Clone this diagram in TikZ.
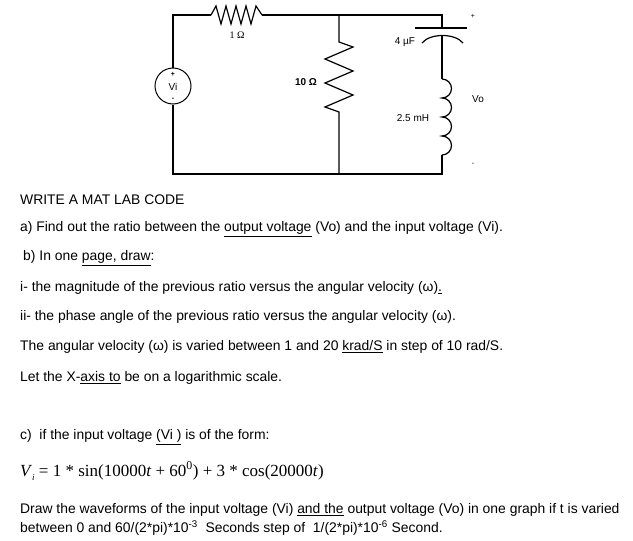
\documentclass[tikz,border=0pt]{standalone}
\usepackage{fontspec}
\setmainfont{Liberation Sans}
\newfontfamily\formfont{Liberation Serif}
\usetikzlibrary{positioning}

\begin{document}
\begin{tikzpicture}[x=1pt,y=-1pt,
        wire/.style = {line width=1.2pt},
        txt/.style = {anchor=west, inner sep=0pt, font=\fontsize{13.9}{16}\selectfont},
        lbl/.style = {inner sep=0pt, font=\fontsize{10}{12}\selectfont},]
        \useasboundingbox (0,0) rectangle (633,541);

        % circuit corners
        \coordinate (tl) at (173,15);
        \coordinate (tm) at (339,15);
        \coordinate (tr) at (442,15);
        \coordinate (bl) at (173,174);
        \coordinate (bm) at (339,174);
        \coordinate (br) at (442,174);
        \node[draw, circle, line width=1pt, minimum size=36pt, inner sep=0pt] (src) at (173,86) {};
        \node[lbl] (vi) at (173,87) {Vi};
        \node[lbl, font=\fontsize{7}{8}\selectfont\bfseries] (vip) at (173,74) {+};
        \node[lbl, font=\fontsize{7}{8}\selectfont\bfseries] (vim) at (173,99) {-};

        \coordinate (r1a) at (211,15);
        \coordinate (r1b) at (262,15);
        \coordinate (r2a) at (339,42);
        \coordinate (r2b) at (339,117);
        \coordinate (cp) at (442,28);
        \coordinate (la) at (442,79);
        \coordinate (lb) at (442,155);

        \draw[wire] (src.north) -- (tl) -- (r1a);
        \draw[wire] (r1a) -- ++(5,-9) -- ++(5,18) -- ++(5,-18) -- ++(5,18) -- ++(5,-18) -- ++(5,18)
                    -- ++(5,-18) -- ++(5,18) -- ++(5,-18) -- (r1b);
        \draw[wire] (r1b) -- (tr) -- (cp);
        \draw[wire] (src.south) -- (bl) -- (br) -- (lb);
        \draw[wire] (tm) -- (r2a) -- ++(14,5) -- ++(-28,12) -- ++(28,12) -- ++(-28,12) -- ++(28,12)
                    -- ++(-28,12) -- ++(14,5) -- (bm);
        % capacitor
        \draw[wire] (415,28) -- (467,28);
        \draw[wire] (422,43) .. controls (430,33) and (455,33) .. (463,43);
        \draw[wire] (442,35) -- (la);
        % inductor
        \draw[wire] (la) arc[start angle=-90, end angle=90, radius=9.5]
                         arc[start angle=-90, end angle=90, radius=9.5]
                         arc[start angle=-90, end angle=90, radius=9.5]
                         arc[start angle=-90, end angle=90, radius=9.5];

        \node[lbl, font=\formfont\fontsize{10}{12}\selectfont] (l1) at (237,35) {1 Ω};
        \node[lbl, font=\fontsize{10}{12}\selectfont\bfseries] (l10) at (306,82) {10 Ω};
        \node[lbl] (lc) at (405,42) {4 µF};
        \node[lbl] (ll) at (413,118) {2.5 mH};
        \node[lbl] (vo) at (478,99) {Vo};
        \node[lbl, font=\fontsize{7}{8}\selectfont] (vop) at (473,16) {+};
        \node[lbl, font=\fontsize{7}{8}\selectfont] (vom) at (473,164) {-};

        % question text
        \node[txt] (t1) at (20,200) {WRITE A MAT LAB CODE};
        \node[txt] (t2) at (20,229) {a) Find out the ratio between the \underline{output voltage} (Vo) and the input voltage (Vi).};
        \node[txt] (t3) at (23,258) {b) In one \underline{page, draw}:};
        \node[txt] (t4) at (20,288) {i- the magnitude of the previous ratio versus the angular velocity (ω)\underline{.}};
        \node[txt] (t5) at (20,317) {ii- the phase angle of the previous ratio versus the angular velocity (ω).};
        \node[txt] (t6) at (20,347) {The angular velocity (ω) is varied between 1 and 20 \underline{krad/S} in step of 10 rad/S.};
        \node[txt] (t7) at (20,378) {Let the X-\underline{axis to} be on a logarithmic scale.};
        \node[txt] (t8) at (20,437) {c) \ if the input voltage \underline{(Vi )} is of the form:};
        \node[txt, font=\formfont\fontsize{17}{19}\selectfont] (t9) at (20,471)
            {\textit{V}\raisebox{-4pt}{\fontsize{9}{10}\selectfont\textit{i}} = 1 * sin(10000\textit{t} + 60\textsuperscript{0}) + 3 * cos(20000\textit{t})};
        \node[txt] (t10) at (20,510) {Draw the waveforms of the input voltage (Vi) \underline{and the} output voltage (Vo) in one graph if t is varied};
        \node[txt] (t11) at (20,528) {between 0 and 60/(2*pi)*10\textsuperscript{-3} \ Seconds step of \ 1/(2*pi)*10\textsuperscript{-6} Second.};
\end{tikzpicture}
\end{document}
